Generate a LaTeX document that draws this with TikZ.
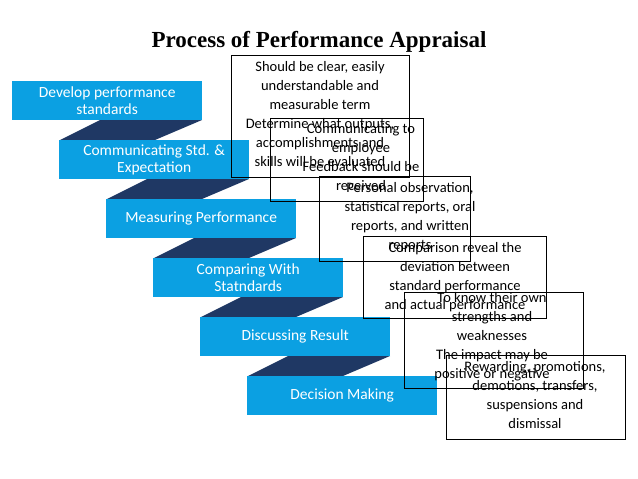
\documentclass[tikz,border=0pt]{standalone}
\usepackage{fontspec}
\setmainfont{Carlito}
\newfontfamily\titlefont{Liberation Serif}
\definecolor{sky}{HTML}{0BA0E2}
\definecolor{navy}{HTML}{1F3864}
\begin{document}
\begin{tikzpicture}[x=1pt,y=-1pt,
  stepbox/.style={fill=sky,text=white,minimum width=190pt,minimum height=39pt,inner sep=0pt,align=center,font=\fontsize{15.5}{17.5}\selectfont,anchor=north west},
  note/.style={draw=black,line width=0.8pt},
  notetext/.style={align=center,font=\fontsize{14.5}{19}\selectfont,anchor=north}]
\useasboundingbox (0,0) rectangle (638,479);
\node[font=\titlefont\bfseries\fontsize{23}{26}\selectfont] (title) at (319,42) {Process of Performance Appraisal};
% connectors
\foreach \i in {0,...,4}{
  \fill[navy] (100+47*\i,120+59*\i) -- (202+47*\i,120+59*\i) -- (155+47*\i,140+59*\i) -- (60+47*\i,140+59*\i) -- cycle;
}
\node[stepbox] (s1) at (12,81) {Develop performance\\standards};
\node[stepbox] (s2) at (59,140) {Communicating Std. \&\\Expectation};
\node[stepbox] (s3) at (106,199) {Measuring Performance};
\node[stepbox] (s4) at (153,258) {Comparing With\\Statndards};
\node[stepbox] (s5) at (200,317) {Discussing Result};
\node[stepbox] (s6) at (247,376) {Decision Making};
% notes
\draw[note] (231,55) rectangle (409,177);
\draw[note] (270,118) rectangle (423,201);
\draw[note] (319,176) rectangle (470,261);
\draw[note] (363,236) rectangle (546,318);
\draw[note] (404,292) rectangle (583,388);
\draw[note] (446,355) rectangle (625,439);
\node[notetext] (ta) at (320,58) {Should be clear, easily\\understandable and\\measurable term\\Determine what outputs,\\accomplishments and\\skills will be evaluated};
\node[notetext] (tb) at (361,120) {Communicating to\\employee\\Feedback should be\\received};
\node[notetext] (tc) at (410,179) {Personal observation,\\statistical reports, oral\\reports, and written\\reports};
\node[notetext] (td) at (455,239) {Comparison reveal the\\deviation between\\standard performance\\and actual performance};
\node[notetext] (te) at (492,289) {To know their own\\strengths and\\weaknesses\\The impact may be\\positive or negative};
\node[notetext] (tf) at (535,358) {Rewarding, promotions,\\demotions, transfers,\\suspensions and\\dismissal};
\end{tikzpicture}
\end{document}
